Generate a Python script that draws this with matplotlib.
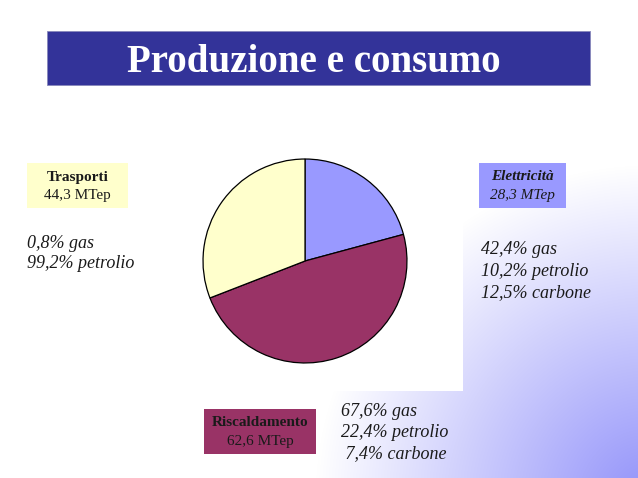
import matplotlib.pyplot as plt
import numpy as np
from matplotlib.patches import Rectangle

W, H = 638, 478

# ---- data ----
sectors = ["Elettricità", "Riscaldamento", "Trasporti"]
mtep_labels = ["28,3 MTep", "62,6 MTep", "44,3 MTep"]
# slice shares as drawn in the picture (percent of the pie)
pie_share = [20.8, 48.3, 30.9]
colors = ["#9999FF", "#993366", "#FFFFCC"]
mix_elettricita = ["42,4% gas", "10,2% petrolio", "12,5% carbone"]
mix_riscaldamento = ["67,6% gas", "22,4% petrolio", " 7,4% carbone"]
mix_trasporti = ["0,8% gas", "99,2% petrolio"]
title = "Produzione e consumo"

SERIF = "Liberation Serif"

fig = plt.figure(figsize=(W / 100, H / 100), dpi=100)

# background: white fading to lavender in the lower-right corner
bg = fig.add_axes([0, 0, 1, 1])
yy, xx = np.mgrid[0:H, 0:W]
d = np.hypot(xx - 650, yy - 500)
t = np.clip(1 - d / 335, 0, 1)
c0 = np.array([1.0, 1.0, 1.0])
c1 = np.array([0.57, 0.57, 0.98])
img = c0 + (c1 - c0) * t[..., None]
bg.imshow(img, extent=[0, W, H, 0], aspect="auto", interpolation="bilinear")
bg.set_xlim(0, W)
bg.set_ylim(H, 0)
bg.axis("off")

# white panel behind the pie
bg.add_patch(Rectangle((145, 129), 318, 262, facecolor="white", edgecolor="none"))

# title banner
bg.add_patch(Rectangle((47, 31), 543, 54, facecolor="#333399", edgecolor="#8888bb", lw=0.6))
bg.text(314, 62, title, ha="center", va="center", color="white",
        fontsize=28, fontweight="bold", family=SERIF)

# pie
r = 103
cx, cy = 305, 261
pax = fig.add_axes([(cx - r) / W, 1 - (cy + r) / H, 2 * r / W, 2 * r / H])
pax.pie(pie_share, colors=colors, startangle=90, counterclock=False,
        wedgeprops=dict(edgecolor="black", linewidth=0.9))
pax.set_xlim(-1.01, 1.01)
pax.set_ylim(-1.01, 1.01)
pax.axis("off")


def label_box(x0, y0, w, h, color, name, value, italic=False):
    bg.add_patch(Rectangle((x0, y0), w, h, facecolor=color, edgecolor="none"))
    style = "italic" if italic else "normal"
    bg.text(x0 + w / 2, y0 + 14, name, ha="center", va="center", fontsize=11,
            fontweight="bold", style=style, family=SERIF, color="#1a1a1a")
    bg.text(x0 + w / 2, y0 + 32, value, ha="center", va="center", fontsize=11,
            style=style, family=SERIF, color="#1a1a1a")


label_box(27, 163, 101, 45, colors[2], sectors[2], mtep_labels[2])
label_box(479, 163, 87, 45, colors[0], sectors[0], mtep_labels[0], italic=True)
label_box(204, 409, 112, 45, colors[1], sectors[1], mtep_labels[1])


def mix_text(x, y, lines, step=21.5):
    for i, s in enumerate(lines):
        bg.text(x, y + i * step, s, ha="left", va="center", fontsize=13,
                style="italic", family=SERIF, color="#1a1a1a")


mix_text(27, 243, mix_trasporti, step=20)
mix_text(481, 250, mix_elettricita)
mix_text(341, 411, mix_riscaldamento)

fig.savefig("out.png", dpi=100)
